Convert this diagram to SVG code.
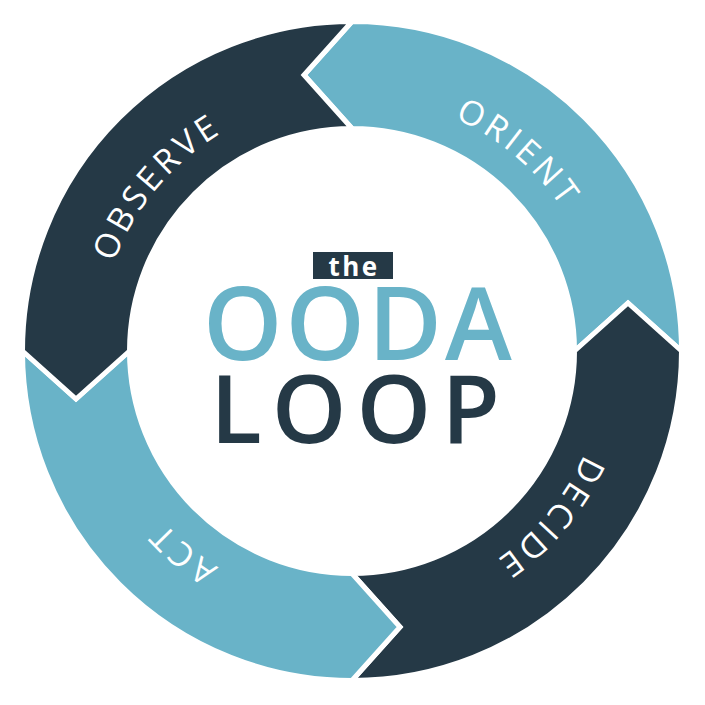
<svg xmlns="http://www.w3.org/2000/svg" xmlns:xlink="http://www.w3.org/1999/xlink" width="705" height="705" viewBox="0 0 705 705">
  <style>
    .seg { stroke: #ffffff; stroke-width: 5; stroke-linejoin: miter; stroke-miterlimit: 10; }
    .dark { fill: #253946; }
    .light { fill: #69b3c8; }
    .lbl { font-family: "Open Sans", "Liberation Sans", sans-serif; font-size: 34px; font-weight: 400; fill: #ffffff; letter-spacing: 4px; }
    .title { font-family: "Open Sans", "Liberation Sans", sans-serif; font-weight: 600; text-anchor: middle; }
  </style>
  <defs>
    <path id="seg" d="M352,21.5 A329.5,329.5 0 0 1 681.5,351 L628,303 L574.5,351 A222.5,222.5 0 0 0 352,128.5 L304,75 Z"/>
    <path id="ring" d="M606,351 A254,254 0 1 1 98,351 A254,254 0 1 1 606,351"/>
  </defs>
  <rect width="705" height="705" fill="#ffffff"/>
  <g id="orient">
    <use xlink:href="#seg" href="#seg" class="seg light"/>
    <text class="lbl"><textPath xlink:href="#ring" href="#ring" startOffset="86.11%" text-anchor="middle">ORIENT</textPath></text>
  </g>
  <g id="decide">
    <use xlink:href="#seg" href="#seg" class="seg dark" transform="rotate(90 352 351)"/>
    <text class="lbl"><textPath xlink:href="#ring" href="#ring" startOffset="11.11%" text-anchor="middle">DECIDE</textPath></text>
  </g>
  <g id="act">
    <use xlink:href="#seg" href="#seg" class="seg light" transform="rotate(180 352 351)"/>
    <text class="lbl"><textPath xlink:href="#ring" href="#ring" startOffset="36.11%" text-anchor="middle">ACT</textPath></text>
  </g>
  <g id="observe">
    <use xlink:href="#seg" href="#seg" class="seg dark" transform="rotate(270 352 351)"/>
    <text class="lbl"><textPath xlink:href="#ring" href="#ring" startOffset="61.11%" text-anchor="middle">OBSERVE</textPath></text>
  </g>
  <g id="connectors"></g>
  <g id="title">
    <rect x="313" y="252" width="80" height="27" fill="#253946"/>
    <text x="354" y="276" font-family="Open Sans, Liberation Sans, sans-serif" font-size="26" font-weight="700" fill="#ffffff" text-anchor="middle" letter-spacing="2.5">the</text>
    <text class="title" x="359" y="360" font-size="101" fill="#69b3c8" letter-spacing="3">OODA</text>
    <text class="title" x="360" y="443" font-size="95" fill="#253946" letter-spacing="10">LOOP</text>
  </g>
</svg>
